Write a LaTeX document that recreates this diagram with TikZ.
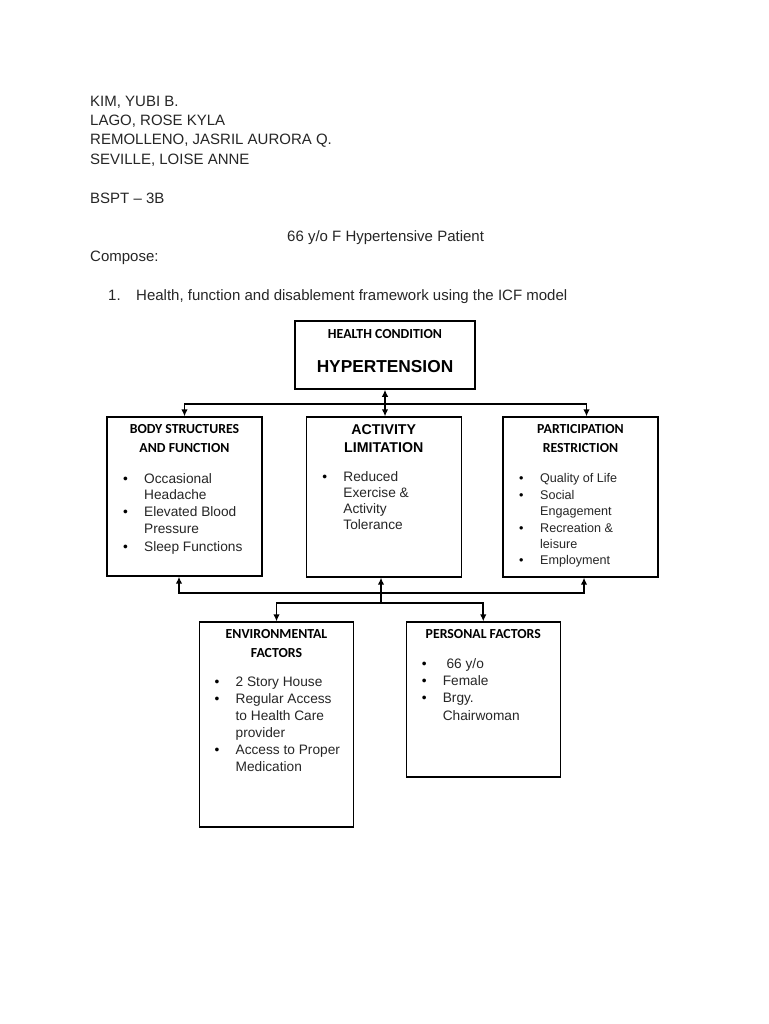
\documentclass[tikz,border=0pt]{standalone}
\usepackage{fontspec}
\setmainfont{Liberation Sans}
\newfontfamily\calfont{Carlito}
\usetikzlibrary{arrows.meta,positioning,calc}
\tikzset{
  box/.style={draw,line width=1.3pt,inner sep=0pt},
  txt/.style={inner sep=0pt,anchor=base west,text=black!85,font=\fontsize{15}{19}\selectfont},
  hdr/.style={inner sep=0pt,align=center,font=\calfont\bfseries\fontsize{13.8}{19}\selectfont},
  lst/.style={inner sep=0pt,anchor=base west,text=black!85},
  conn/.style={line width=1.6pt,>={Latex[length=7pt,width=6.5pt]}}
}
\newcommand{\bul}{\makebox[21pt][l]{\textcolor{black}{\textbullet}}}

\begin{document}
\begin{tikzpicture}[x=1pt,y=-1pt]
  \fill[white] (0,0) rectangle (768,1024);
  \useasboundingbox (0,0) rectangle (768,1024);

  % header
  \foreach \nm [count=\i] in {{KIM, YUBI B.},{LAGO, ROSE KYLA},{REMOLLENO, JASRIL AURORA Q.},{SEVILLE, LOISE ANNE}}
    \node[txt] (n\i) at (90,87.1+19.3*\i) {\nm};
  \node[txt] (course)  at (90,203.4) {BSPT -- 3B};
  \node[txt] (patient) at (287,241.4) {66 y/o F Hypertensive Patient};
  \node[txt] (compose) at (90,261.2) {Compose:};
  \node[txt] (num)     at (108,300.4) {1.};
  \node[txt] (task)    at (136,300.4) {Health, function and disablement framework using the ICF model};

  % boxes
  \node[box,line width=1.5pt,minimum width=180pt,minimum height=68pt] (health) at (385,355) {};
  \node[box,minimum width=155pt,minimum height=159pt] (body) at (184.5,496.5) {};
  \node[box,minimum width=155pt,minimum height=160pt] (act)  at (383.75,497) {};
  \node[box,minimum width=155pt,minimum height=160pt] (part) at (580.5,497) {};
  \node[box,minimum width=154pt,minimum height=205pt] (env)  at (276.5,724.5) {};
  \node[box,minimum width=154pt,minimum height=155pt] (pers) at (483.25,699.5) {};

  % titles
  \node[hdr] (healthtitle) at ($(health.north)+(0,14)$) {HEALTH CONDITION};
  \node[inner sep=0pt,font=\bfseries\fontsize{17.3}{20}\selectfont] (htn) at ($(health.north)+(0,46)$) {HYPERTENSION};
  \node[hdr] (bodytitle) at ($(body.north)+(0,22.5)$) {BODY STRUCTURES\\AND FUNCTION};
  \node[inner sep=0pt,align=center,font=\bfseries\fontsize{14.2}{18}\selectfont] (acttitle) at ($(act.north)+(0,22)$) {ACTIVITY\\LIMITATION};
  \node[hdr] (parttitle) at ($(part.north)+(0,22.5)$) {PARTICIPATION\\RESTRICTION};
  \node[hdr] (envtitle)  at ($(env.north)+(0,22.5)$) {ENVIRONMENTAL\\FACTORS};
  \node[hdr] (perstitle) at ($(pers.north)+(0,13)$) {PERSONAL FACTORS};

  % lists
  \node[lst,font=\fontsize{13.7}{16.6}\selectfont] (bodylist) at ($(body.north west)+(16.6,67)$)
    {\begin{tabular}[t]{@{}l@{}l@{}}
      \bul & Occasional\\ & Headache\\[0.4pt]
      \bul & Elevated Blood\\ & Pressure\\[1.2pt]
      \bul & Sleep Functions
    \end{tabular}};
  \node[lst,font=\fontsize{13.7}{16}\selectfont] (actlist) at ($(act.north west)+(16.6,65)$)
    {\begin{tabular}[t]{@{}l@{}l@{}}
      \bul & Reduced\\ & Exercise \&\\ & Activity\\ & Tolerance
    \end{tabular}};
  \node[lst,font=\fontsize{12.6}{16.4}\selectfont] (partlist) at ($(part.north west)+(16.6,66.5)$)
    {\begin{tabular}[t]{@{}l@{}l@{}}
      \bul & Quality of Life\\
      \bul & Social\\ & Engagement\\
      \bul & Recreation \&\\ & leisure\\
      \bul & Employment
    \end{tabular}};
  \node[lst,font=\fontsize{13.7}{16.6}\selectfont] (envlist) at ($(env.north west)+(15.6,65)$)
    {\begin{tabular}[t]{@{}l@{}l@{}}
      \bul & 2 Story House\\[1pt]
      \bul & Regular Access\\ & to Health Care\\ & provider\\[1pt]
      \bul & Access to Proper\\ & Medication
    \end{tabular}};
  \node[lst,font=\fontsize{13.7}{17.3}\selectfont] (perslist) at ($(pers.north west)+(16,47)$)
    {\begin{tabular}[t]{@{}l@{}l@{}}
      \bul & \hspace{3.8pt}66 y/o\\
      \bul & Female\\
      \bul & Brgy.\\ & Chairwoman
    \end{tabular}};

  % connectors
  \coordinate (topbus) at (385,404);
  \coordinate (botbus) at (381,593);
  \coordinate (envbus) at (381,603);
  \draw[conn,<->] (health.south) -- (health.south |- act.north);
  \draw[conn,->] (topbus) -| (body.north);
  \draw[conn,->] (topbus) -| ([xshift=6pt]part.north);
  \draw[conn,->] (envbus) -- (envbus |- act.south);
  \draw[conn,->] (botbus) -| ([xshift=-5.5pt]body.south);
  \draw[conn,->] (botbus) -| ([xshift=3.5pt]part.south);
  \draw[conn,->] (envbus) -| (env.north);
  \draw[conn,->] (envbus) -| (pers.north);
\end{tikzpicture}
\end{document}
